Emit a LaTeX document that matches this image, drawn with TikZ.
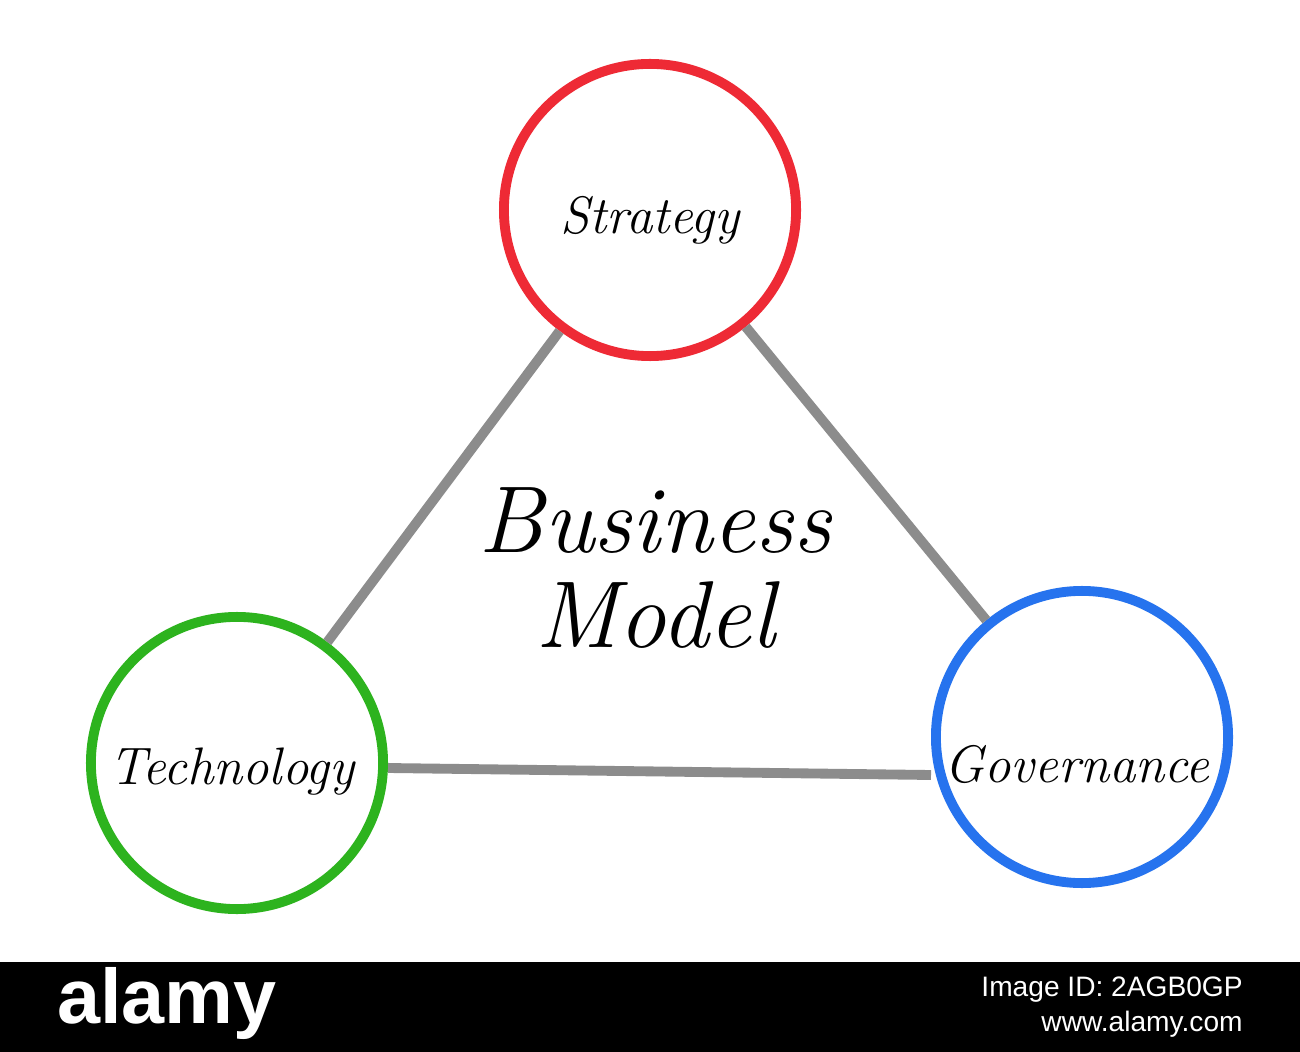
\documentclass[tikz,border=0pt]{standalone}
\usepackage{fontspec}
\newfontfamily\sansf{Liberation Sans}
\definecolor{cred}{HTML}{EE2A35}
\definecolor{cgreen}{HTML}{2DB31E}
\definecolor{cblue}{HTML}{2673EE}
\definecolor{cgray}{HTML}{8C8C8C}
\begin{document}
\begin{tikzpicture}[x=0.01cm,y=-0.01cm,
  ring/.style={circle,minimum size=2.92cm,line width=2.8pt,inner sep=0pt},
  lbl/.style={font=\itshape\fontsize{15}{17}\selectfont},
  link/.style={cgray,line width=2.8pt}]
\useasboundingbox (0,0) rectangle (1300,1052);
\fill[white] (0,0) rectangle (1300,1052);
\node[ring,draw=cred] (s) at (650,210) {};
\node[ring,draw=cgreen] (t) at (237,763) {};
\node[ring,draw=cblue] (g) at (1082,737) {};
\node[lbl] (sl) at (650,220) {Strategy};
\node[lbl] (tl) at (232,772) {Technology};
\node[lbl] (gl) at (1077,764) {Governance};
\draw[link] (s) -- (t);
\draw[link] (s) -- (g);
\draw[link] (t.east) ++(0,5) coordinate (te) -- (g.west |- 0,775) coordinate (ge);
\node[font=\itshape\fontsize{27}{27}\selectfont,align=center] (bm) at (655,568) {Business\\Model};
\fill[black] (0,962) rectangle (1300,1052);
\node[white,font=\sansf\bfseries\fontsize{22}{22}\selectfont,anchor=west] (al) at (45,1003) {alamy};
\node[white,font=\sansf\fontsize{8}{10}\selectfont,align=right,anchor=east] (id) at (1255,1007) {Image ID: 2AGB0GP\\www.alamy.com};
\end{tikzpicture}
\end{document}
